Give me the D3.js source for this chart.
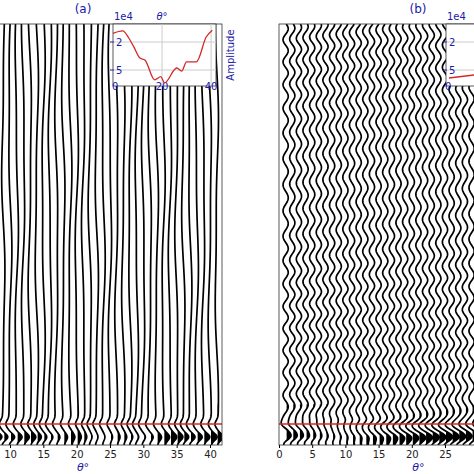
<!DOCTYPE html><html><head><script src="https://cdn.jsdelivr.net/npm/d3@7"></script>
<style>body{margin:0;background:#fff}text{font-family:"DejaVu Sans";}</style></head><body><svg id="c" width="474" height="474"></svg>
<script>
const ticksA=[10,15,20,25,30,35,40];
const ticksB=[0,5,10,15,20,25];
const insetDeg=[0,4,6.5,8.5,11,13,17,19.5,21,26,28,30,34,38,40.5];
const insetAmp=[0.85,0.89,0.77,0.63,0.45,0.42,0.1,0.15,0.05,0.29,0.24,0.39,0.39,0.79,0.9];
const traceStep=1;
const svg=d3.select("#c");
const blue="#1a1aa8";
const T0=24,T1=445;
const xa=d3.scaleLinear().domain([10,40]).range([10,210]);
const xb=d3.scaleLinear().domain([0,25]).range([279,445]);
const yt=d3.scaleLinear().domain([0,421]).range([T0,T1]);
const g2=(t,c,s)=>Math.exp(-(((t-c)/s)**2));
function panel(x,x0deg,x1deg,kind,clipId){
  const g=svg.append("g");
  svg.append("clipPath").attr("id",clipId).append("rect").attr("x",x(x0deg)).attr("y",T0).attr("width",x(x1deg)-x(x0deg)).attr("height",T1-T0);
  const gg=g.append("g").attr("clip-path",`url(#${clipId})`);
  for(let d=(kind==="a"?-9:1);d<x1deg;d+=traceStep){
    const bx=x(d);const pts=[];
    for(let t=0;t<=421;t+=1){
      let o;
      if(kind==="a"){
        o=1.3*Math.sin(t/45+d*0.9)+0.6*Math.sin(t/22+d*0.4);
        o+= -3*g2(t,400,5)+6*g2(t,413,5)*(0.7+0.3*Math.sin(d/5));
      } else {
        o=2.6*Math.sin(t/3.8+d*0.2+Math.sin(t/50)*1.2);
        o+= -4*g2(t,401,5)+5*g2(t,413,5);
      }
      pts.push([bx+o,yt(t)]);
    }
    const fill=d3.area().x0(()=>bx+1).x1(p=>Math.max(p[0],bx+1)).y(p=>p[1]);
    gg.append("path").attr("d",fill(pts.map((p,i)=>i>380?p:[bx,p[1]]))).attr("fill","#000");
    gg.append("path").attr("d",d3.line()(pts)).attr("fill","none").attr("stroke","#000").attr("stroke-width",1.7);
  }
  gg.append("line").attr("x1",x(x0deg)).attr("x2",x(x1deg)).attr("y1",424).attr("y2",424).attr("stroke","#d62728").attr("stroke-width",1.5);
  g.append("rect").attr("x",x(x0deg)).attr("y",T0).attr("width",x(x1deg)-x(x0deg)).attr("height",T1-T0).attr("fill","none").attr("stroke","#333").attr("stroke-width",0.8);
  const ax=svg.append("g").attr("transform",`translate(0,${T1})`).call(d3.axisBottom(x).tickValues(kind==="a"?ticksA:ticksB).tickSize(3).tickFormat(d3.format("d")));
  ax.select(".domain").remove();ax.selectAll("text").attr("font-size",10).attr("fill","#222").attr("font-family","DejaVu Sans");
  svg.append("text").attr("x",kind==="a"?83:x(21)).attr("y",471).attr("text-anchor","middle").attr("fill",blue).attr("font-size",11).attr("font-style","italic").text("θ°");
}
panel(xa,-8.5,41.8,"a","ca");
panel(xb,0,40,"b","cb");
svg.append("text").attr("x",83).attr("y",13).attr("text-anchor","middle").attr("fill",blue).attr("font-size",12).text("(a)");
svg.append("text").attr("x",418).attr("y",13).attr("text-anchor","middle").attr("fill",blue).attr("font-size",12).text("(b)");
function inset(x0,w,red){
  const ix=d3.scaleLinear().domain([0,42]).range([x0,x0+w]);
  const iy=d3.scaleLinear().domain([0,1]).range([86,24]);
  svg.append("rect").attr("x",x0).attr("y",24).attr("width",w).attr("height",62).attr("fill","#fff").attr("stroke","#333").attr("stroke-width",0.8);
  [20,40].forEach(v=>svg.append("line").attr("x1",ix(v)).attr("x2",ix(v)).attr("y1",24).attr("y2",86).attr("stroke","#ccc"));
  [42,70].forEach(v=>svg.append("line").attr("x1",x0).attr("x2",x0+w).attr("y1",v).attr("y2",v).attr("stroke","#ccc"));
  const ay=svg.append("g").attr("transform",`translate(${x0},0)`);
  [["2",42],["5",70],["0",86]].forEach(([t,y])=>{
    if(t!=="0")ay.append("line").attr("x1",-3).attr("x2",1).attr("y1",y).attr("y2",y).attr("stroke",blue);
    ay.append("text").attr("x",t==="0"?-1:3).attr("y",y+4).attr("fill",blue).attr("font-size",10).text(t);
  });
  if(red){
  [[20,"20"],[40,"40"]].forEach(([v,t])=>svg.append("text").attr("x",ix(v)).attr("y",90).attr("text-anchor","middle").attr("fill",blue).attr("font-size",10).text(t));
  svg.append("text").attr("x",ix(20)).attr("y",20).attr("text-anchor","middle").attr("fill",blue).attr("font-size",10).attr("font-style","italic").text("θ°");
  svg.append("path").attr("d",d3.line().x((d,i)=>ix(insetDeg[i])).y(d=>iy(d)).curve(d3.curveMonotoneX)(insetAmp)).attr("fill","none").attr("stroke","#d62728").attr("stroke-width",1.3);
  }
  svg.append("text").attr("x",x0+1).attr("y",20).attr("fill",blue).attr("font-size",10).text("1e4");
}
inset(113,103,true);
svg.append("text").attr("transform","translate(234,55) rotate(-90)").attr("text-anchor","middle").attr("fill",blue).attr("font-size",10).text("Amplitude");
inset(446,103,false);
svg.append("line").attr("x1",449).attr("x2",474).attr("y1",78).attr("y2",75).attr("stroke","#d62728").attr("stroke-width",1.3);
</script></body></html>
